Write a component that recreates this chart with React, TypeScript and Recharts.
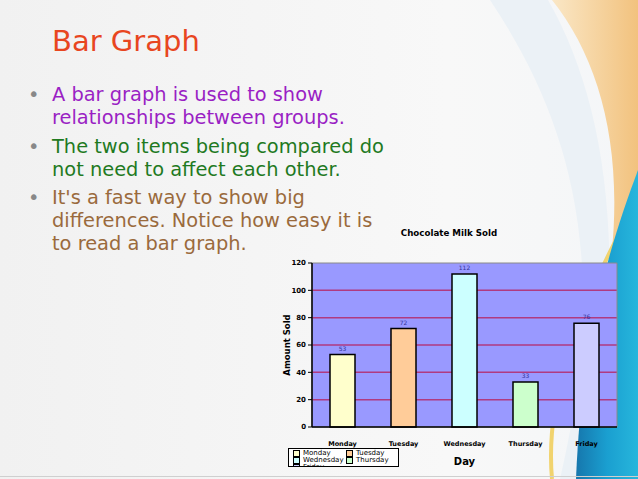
import {
  BarChart,
  Bar,
  Cell,
  XAxis,
  YAxis,
  CartesianGrid,
  LabelList,
  Legend,
  ReferenceArea,
} from "recharts";

const days = ["Monday", "Tuesday", "Wednesday", "Thursday", "Friday"];
const sold = [53, 72, 112, 33, 76];
const dayColors = ["#FFFFCC", "#FFCC99", "#CCFFFF", "#CCFFCC", "#CCCCFF"];
const yTicks = [0, 20, 40, 60, 80, 100, 120];
const gridValues = [20, 40, 60, 80, 100];

const bullets = [
  { lines: ["A bar graph is used to show", "relationships between groups."], color: "#9a1fc4" },
  { lines: ["The two items being compared do", "not need to affect each other."], color: "#1f7a1f" },
  {
    lines: ["It's a fast way to show big", "differences. Notice how easy it is", "to read a bar graph."],
    color: "#9a6a3c",
  },
];

const chartData = days.map((day, i) => ({ day, sold: sold[i] }));
const edgeTicks = days.map((_, i) => i).concat(days.length);

const comic = '"Comic Sans MS", "DejaVu Sans", sans-serif';

function DayLegend() {
  return (
    <div
      style={{
        width: 105,
        height: 16,
        border: "1px solid #000",
        background: "#fff",
        overflow: "hidden",
        display: "grid",
        gridTemplateColumns: "53px 52px",
        padding: "1px 0 0 4px",
        boxSizing: "content-box",
      }}
    >
      {days.map((d, i) => (
        <div key={d} style={{ display: "flex", alignItems: "center", height: 7, fontSize: 7, lineHeight: "7px", fontFamily: comic }}>
          <span
            style={{
              display: "inline-block",
              width: 5,
              height: 5,
              border: "1px solid #000",
              background: dayColors[i],
              marginRight: 3,
            }}
          />
          {d}
        </div>
      ))}
    </div>
  );
}

export default function App() {
  return (
    <div style={{ position: "absolute", left: 0, top: 0, width: 638, height: 479, overflow: "hidden", fontFamily: comic }}>
      {/* slide background */}
      <svg width={638} height={479} style={{ position: "absolute", left: 0, top: 0 }}>
        <defs>
          <linearGradient id="bg" x1="0" y1="0" x2="1" y2="0">
            <stop offset="0" stopColor="#f1f1f1" />
            <stop offset="0.7" stopColor="#f8f8f8" />
            <stop offset="1" stopColor="#f4f6f8" />
          </linearGradient>
          <linearGradient id="orange" x1="0" y1="0" x2="1" y2="0">
            <stop offset="0" stopColor="#fae7c6" />
            <stop offset="1" stopColor="#f2c27e" />
          </linearGradient>
          <linearGradient id="blue" x1="0" y1="0" x2="1" y2="0">
            <stop offset="0" stopColor="#1677ad" />
            <stop offset="0.5" stopColor="#1a9fd0" />
            <stop offset="1" stopColor="#27b6dc" />
          </linearGradient>
        </defs>
        <rect width={638} height={479} fill="url(#bg)" />
        <path d="M490 0 C570 120 612 260 560 479 L590 479 C630 250 605 100 548 0 Z" fill="#ebf1f6" />
        <path d="M552 0 C600 60 625 150 610 268 L638 200 L638 0 Z" fill="url(#orange)" />
        <path d="M616 240 C575 320 545 400 552 479" stroke="#f1d36e" strokeWidth={4} fill="none" />
        <path d="M638 170 C612 240 582 330 576 479 L638 479 Z" fill="url(#blue)" />
        <line x1={0} y1={476.5} x2={638} y2={476.5} stroke="#cfcfcf" />
      </svg>

      <div style={{ position: "absolute", left: 52, top: 23, fontSize: 29, color: "#e8461f", lineHeight: "36px" }}>
        Bar Graph
      </div>

      {bullets.map((b, bi) => {
        const top = 83 + bi * 52 - (bi === 2 ? 1 : 0);
        return (
          <div key={bi} style={{ position: "absolute", left: 28, top, fontSize: 19.4, lineHeight: "23px", color: b.color }}>
            <span style={{ position: "absolute", left: 0, top: 0, color: "#888" }}>•</span>
            {b.lines.map((l) => (
              <div key={l} style={{ marginLeft: 24, whiteSpace: "nowrap" }}>
                {l}
              </div>
            ))}
          </div>
        );
      })}

      <div
        style={{
          position: "absolute",
          left: 360,
          width: 178,
          top: 228,
          textAlign: "center",
          fontSize: 8.7,
          fontWeight: "bold",
          color: "#000",
        }}
      >
        Chocolate Milk Sold
      </div>

      <div style={{ position: "absolute", left: 270, top: 220 }}>
        <BarChart
          width={360}
          height={259}
          data={chartData}
          margin={{ top: 43, right: 13, bottom: 12, left: 0 }}
          barSize={25}
        >
          <CartesianGrid
            xAxisId="cat"
            vertical={false}
            horizontalValues={gridValues}
            stroke="#b03a80"
            strokeWidth={1.5}
            fill="#9999ff"
            fillOpacity={1}
          />
          <ReferenceArea xAxisId="cat" y1={0} y2={120} fill="none" stroke="#8a8a8a" strokeWidth={1} />
          <XAxis
            xAxisId="edge"
            type="number"
            domain={[0, days.length]}
            ticks={edgeTicks}
            height={0}
            axisLine={false}
            tickLine={{ stroke: "#000" }}
            tickSize={4}
            tick={() => <g />}
          />
          <XAxis
            xAxisId="cat"
            dataKey="day"
            height={40}
            axisLine={{ stroke: "#000", strokeWidth: 1.5 }}
            tickLine={false}
            tick={{ fontSize: 6.5, fontWeight: "bold", fill: "#000", fontFamily: comic }}
            tickMargin={8}
            label={{
              value: "Day",
              position: "insideBottom",
              offset: 2,
              fontSize: 10,
              fontWeight: "bold",
              fill: "#000",
              fontFamily: comic,
            }}
          />
          <YAxis
            width={42}
            domain={[0, 120]}
            ticks={yTicks}
            axisLine={{ stroke: "#000", strokeWidth: 1.5 }}
            tickLine={{ stroke: "#000" }}
            tickSize={4}
            tick={{ fontSize: 7, fontWeight: "bold", fill: "#000", fontFamily: comic }}
            label={{
              value: "Amount Sold",
              angle: -90,
              position: "insideLeft",
              offset: 17,
              fontSize: 8.5,
              fontWeight: "bold",
              fill: "#000",
              fontFamily: comic,
              style: { textAnchor: "middle" },
            }}
          />
          <Bar xAxisId="cat" dataKey="sold" stroke="#000" strokeWidth={1.5} isAnimationActive={false}>
            {chartData.map((d, i) => (
              <Cell key={d.day} fill={dayColors[i]} />
            ))}
            <LabelList dataKey="sold" position="top" offset={4} fontSize={6} fill="#33339a" />
          </Bar>
          <Legend
            layout="horizontal"
            verticalAlign="middle"
            align="center"
            wrapperStyle={{ left: 18, top: 228, width: 110, height: 19 }}
            content={() => <DayLegend />}
          />
        </BarChart>
      </div>
    </div>
  );
}
